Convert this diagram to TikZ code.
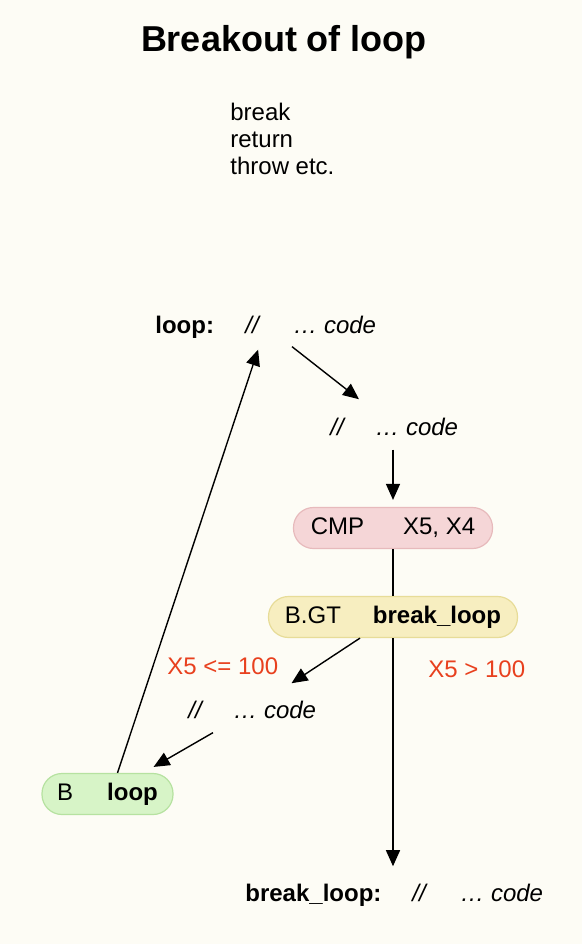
\documentclass[tikz,border=0pt]{standalone}
\usepackage{fontspec}
\setmainfont{Liberation Sans}
\usepackage{xcolor}
\definecolor{paper}{RGB}{253,252,245}
\definecolor{cmpfill}{RGB}{245,214,215}
\definecolor{cmpline}{RGB}{231,186,188}
\definecolor{bgtfill}{RGB}{247,238,192}
\definecolor{bgtline}{RGB}{231,220,152}
\definecolor{bfill}{RGB}{215,244,199}
\definecolor{bline}{RGB}{182,226,160}
\definecolor{condred}{RGB}{232,64,30}
\usepackage{tikz}
\usetikzlibrary{arrows.meta, positioning, calc}
\tikzstyle{code} = [inner sep=0pt, anchor=base west]
\tikzstyle{instr} = [rectangle, draw, line width=0.6pt, rounded corners=10pt, minimum height=20.5pt, inner sep=0pt]
\tikzstyle{condlabel} = [inner sep=0pt, anchor=base west, text=condred]
\tikzstyle{arrow} = [line width=0.7pt, -{Triangle[length=8pt,width=7pt]}]
\tikzstyle{link} = [line width=0.7pt]

\begin{document}
\begin{tikzpicture}[x=0.5pt, y=-0.5pt, font=\fontsize{12}{13.5}\selectfont]
    \fill[paper] (0,0) rectangle (582,944);

    \node[anchor=base, font=\bfseries\fontsize{18}{20}\selectfont] (title) at (284,51) {Breakout of loop};
    \node[inner sep=0pt, anchor=north west, align=left] (exits) at (230,103) {break\\return\\throw etc.};

    % loop head
    \node[code] (loop) at (155,333) {\textbf{loop:}};
    \node[code] (loopslash) at (245,333) {\textit{//}};
    \node[code] (loopcode) at (293,333) {\textit{… code}};
    \node[code] (bodyslash) at (330,435) {\textit{//}};
    \node[code] (bodycode) at (375,435) {\textit{… code}};

    % compare and branch
    \node[instr, fill=cmpfill, draw=cmpline, minimum width=99.5pt] (cmp) at (393,528) {CMP\hspace{19.5pt}X5, X4};
    \node[instr, fill=bgtfill, draw=bgtline, minimum width=124.5pt] (bgt) at (393,617) {B.GT\hspace{16pt}\textbf{break\_loop}};

    \node[condlabel] (le) at (167,674) {X5 <= 100};
    \node[condlabel] (gt) at (428,677) {X5 > 100};

    \node[code] (elseslash) at (188,718) {\textit{//}};
    \node[code] (elsecode) at (233,718) {\textit{… code}};
    \node[instr, fill=bfill, draw=bline, minimum width=65.5pt] (bloop) at (107.5,794) {B\hspace{17pt}\textbf{loop}};

    \node[code] (exit) at (245,901) {\textbf{break\_loop:}};
    \node[code] (exitslash) at (412,901) {\textit{//}};
    \node[code] (exitcode) at (460,901) {\textit{… code}};

    \draw[arrow] ($(loopcode.south west)+(-1,13)$) -- ($(bodycode.north west)+(-16,-18)$);
    \draw[arrow] ($(bodycode.south west)+(18,14)$) -- ($(cmp.north)+(0,-7)$);
    \draw[link] (cmp.south) -- (bgt.north);
    \draw[arrow] ($(bgt.south)+(-33,0)$) -- ($(elsecode.north east)+(-25,-17)$);
    \draw[arrow] (bgt.south) -- ($(bgt.south |- exit.north)+(0,-17)$);
    \draw[arrow] ($(elsecode.south west)+(-20,14)$) -- ($(bloop.north east)+(-20,-6)$);
    \draw[arrow] ($(bloop.north)+(10,0)$) -- ($(loopslash.south)+(5,16)$);
\end{tikzpicture}
\end{document}
